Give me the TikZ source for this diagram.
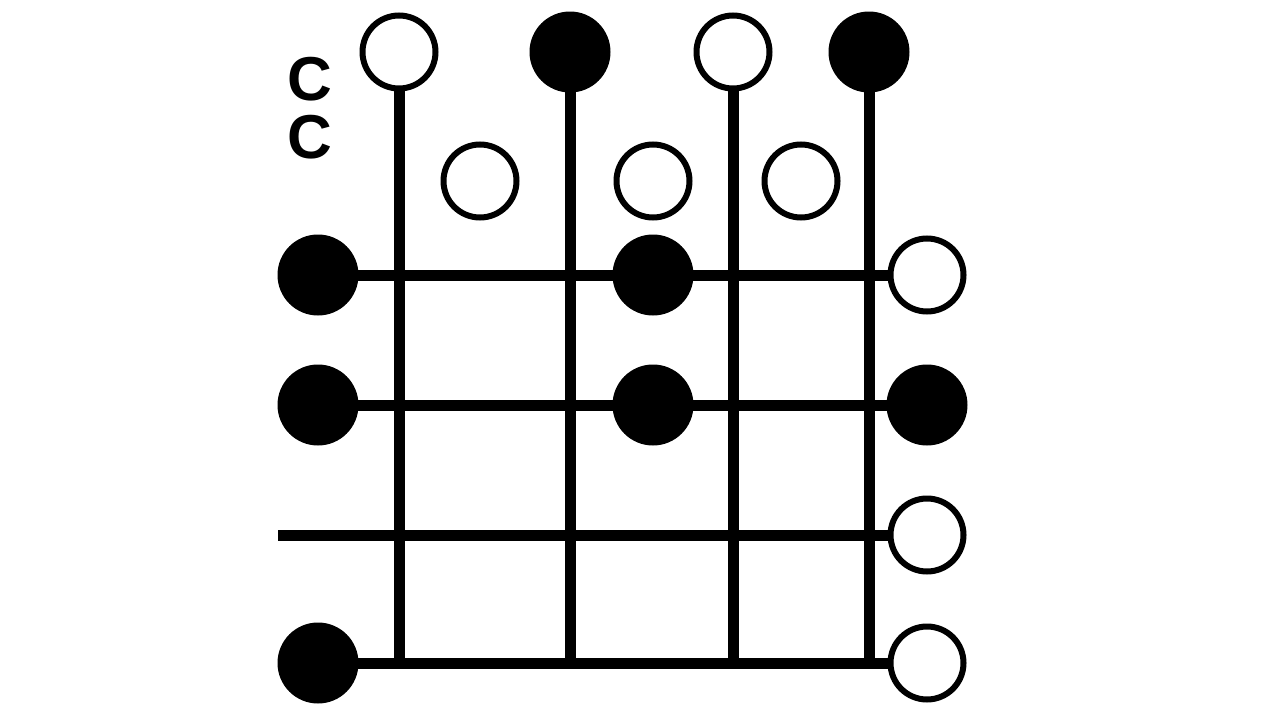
\documentclass[tikz,border=0pt]{standalone}
\usepackage{fontspec}
\setmainfont{Liberation Sans}
\usetikzlibrary{backgrounds}
\begin{document}
\begin{tikzpicture}[x=1pt,y=-1pt,
  openc/.style={circle,draw=black,line width=6pt,fill=white,minimum size=73pt,inner sep=0pt},
  fullc/.style={circle,fill=black,minimum size=81pt,inner sep=0pt},
  bar/.style={line width=11pt,black},
  lbl/.style={font=\fontsize{62}{62}\selectfont\bfseries,inner sep=0pt}]
\useasboundingbox (0,0) rectangle (1280,720);
% top row
\node[openc] (T1) at (399,52) {};
\node[fullc] (T2) at (570,52) {};
\node[openc] (T3) at (733,52) {};
\node[fullc] (T4) at (869,52) {};
% second row
\node[openc] (U1) at (480,181) {};
\node[openc] (U2) at (653,181) {};
\node[openc] (U3) at (801,181) {};
% rows
\node[fullc] (L1) at (318,275) {};
\node[fullc] (M1) at (653,275) {};
\node[openc] (R1) at (927,275) {};
\node[fullc] (L2) at (318,405) {};
\node[fullc] (M2) at (653,405) {};
\node[fullc] (R2) at (927,405) {};
\coordinate (S3) at (278,535);
\node[openc] (R3) at (927,535) {};
\node[fullc] (L4) at (318,663) {};
\node[openc] (R4) at (927,663) {};
\coordinate (B1) at (399,663);
\coordinate (B2) at (570,663);
\coordinate (B3) at (733,663);
\coordinate (B4) at (869,663);
% labels
\node[lbl] (C1) at (310,79) {C};
\node[lbl] (C2) at (310,137) {C};
\begin{pgfonlayer}{background}
\fill[white] (0,0) rectangle (1280,720);
\draw[bar] (T1.center) -- (B1);
\draw[bar] (T2.center) -- (B2);
\draw[bar] (T3.center) -- (B3);
\draw[bar] (T4.center) -- (B4);
\draw[bar] (L1.center) -- (M1.center) -- (R1.center);
\draw[bar] (L2.center) -- (M2.center) -- (R2.center);
\draw[bar] (S3) -- (R3.center);
\draw[bar] (L4.center) -- (R4.center);
\end{pgfonlayer}
\end{tikzpicture}
\end{document}
